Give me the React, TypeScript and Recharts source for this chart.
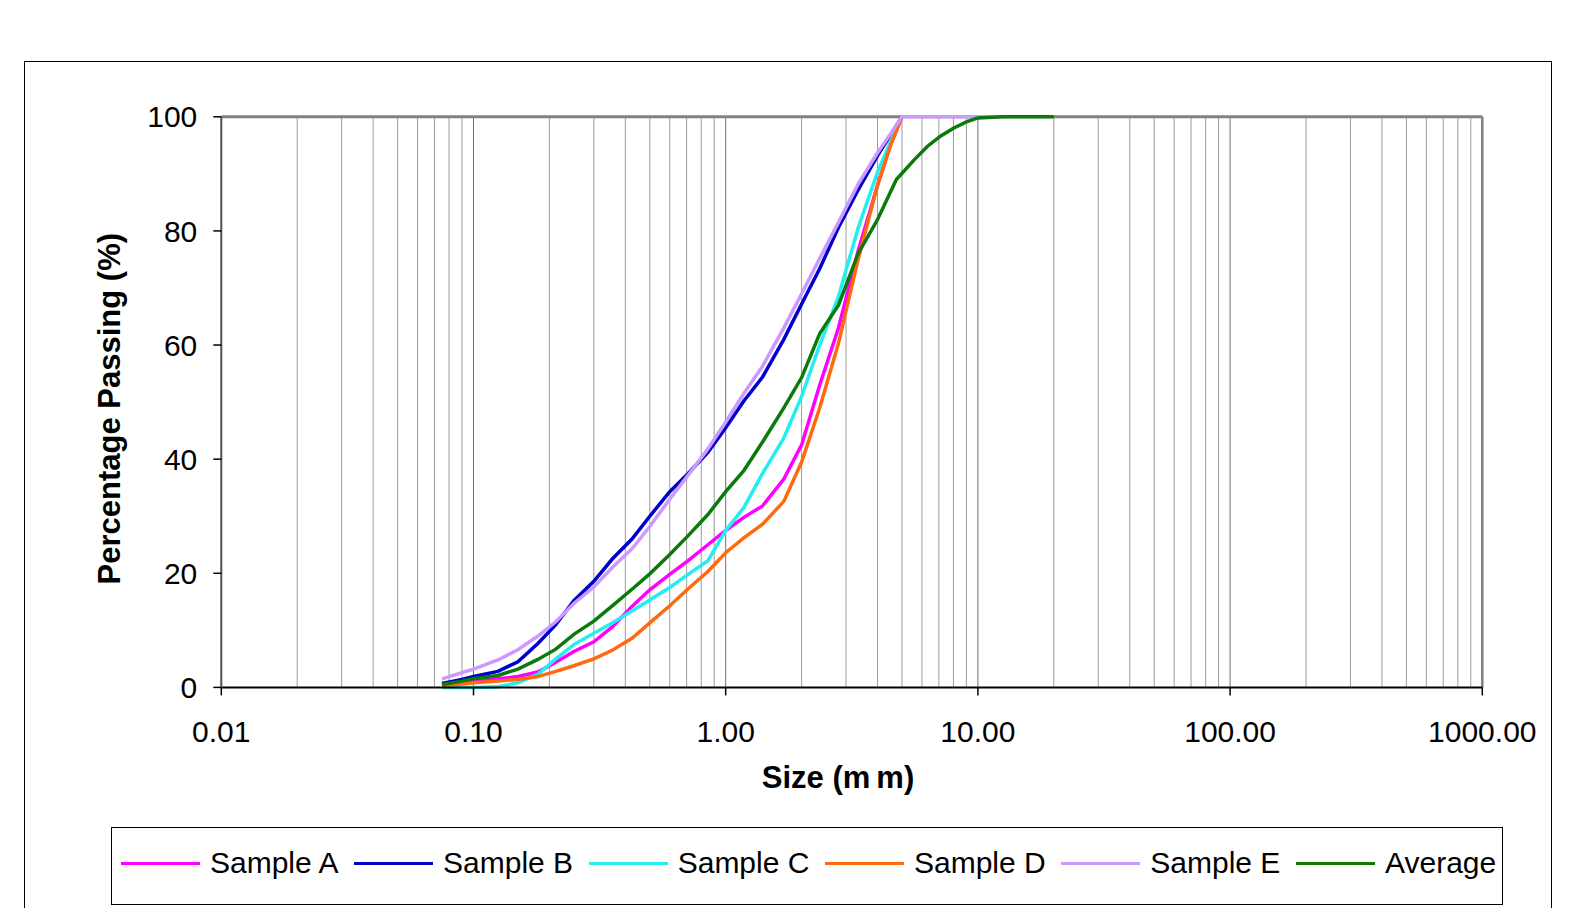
import React from 'react'
import { LineChart, Line, XAxis, YAxis, CartesianGrid, ReferenceLine, Legend } from 'recharts'

// axis ticks
const sizeTicks = [0.01, 0.1, 1, 10, 100, 1000]
const percentTicks = [0, 20, 40, 60, 80, 100]
const minorSteps = [2, 3, 4, 5, 6, 7, 8, 9]

// particle size (mm) vs percentage passing
const sampleSizes = [
  0.075, 0.09, 0.1, 0.125, 0.15, 0.18, 0.212, 0.25, 0.3, 0.355, 0.425, 0.5, 0.6,
  0.71, 0.85, 1.0, 1.18, 1.4, 1.7, 2.0, 2.36, 2.8, 3.35, 4.0, 4.5, 5.0,
]
const sampleA = [
  0.5, 0.9, 1.1, 1.5, 1.9, 2.7, 4.4, 6.3, 8.0, 10.6, 14.2, 17.1, 19.8,
  22.2, 25.0, 27.5, 29.8, 31.8, 36.5, 42.5, 53.0, 63.0, 76.5, 88.0, 95.0, 100,
]
const sampleB = [
  0.7, 1.4, 1.9, 2.8, 4.5, 7.7, 11.0, 15.2, 18.6, 22.5, 26.0, 30.0, 34.3,
  37.5, 41.2, 45.5, 50.2, 54.4, 61.0, 67.2, 73.4, 80.6, 87.2, 93.2, 96.8, 100,
]
const sampleC = [
  0, 0, 0, 0.1, 0.8, 2.3, 5.0, 7.5, 9.5, 11.3, 13.4, 15.3, 17.5,
  19.8, 22.2, 27.5, 31.5, 37.5, 43.7, 51.0, 60.0, 68.5, 80.5, 90.3, 95.6, 100,
]
const sampleD = [
  0.3, 0.6, 0.8, 1.1, 1.4, 1.9, 2.8, 3.8, 5.0, 6.5, 8.6, 11.3, 14.3,
  17.3, 20.3, 23.6, 26.2, 28.6, 32.6, 39.5, 49.0, 60.3, 75.0, 88.0, 95.0, 100,
]
const sampleESizes = [...sampleSizes, 10, 12.5]
const sampleE = [
  1.5, 2.6, 3.2, 4.8, 6.6, 9.0, 11.5, 14.7, 17.6, 21.0, 24.3, 28.2, 33.0,
  37.2, 41.8, 46.5, 51.5, 56.3, 63.0, 69.0, 75.2, 81.5, 88.2, 93.7, 97.0, 100, 100, 100,
]
const averageSizes = [
  0.075, 0.09, 0.1, 0.125, 0.15, 0.18, 0.212, 0.25, 0.3, 0.355, 0.425, 0.5, 0.6,
  0.71, 0.85, 1.0, 1.18, 1.4, 1.7, 2.0, 2.36, 2.8, 3.35, 4.0, 4.75, 5.6, 6.3,
  7.1, 8.0, 9.0, 10, 12.5, 20,
]
const average = [
  0.5, 1.1, 1.5, 2.1, 3.2, 4.9, 6.7, 9.3, 11.6, 14.3, 17.2, 19.9, 23.3,
  26.6, 30.3, 34.3, 38.0, 43.0, 49.0, 54.3, 62.0, 67.0, 76.0, 82.0, 89.0, 92.5, 94.8,
  96.6, 98.0, 99.1, 99.8, 100, 100,
]

const toPoints = (sizes: number[], pct: number[]) => sizes.map((size, i) => ({ size, pct: pct[i] }))

const samples = [
  { name: 'Sample A', color: '#FF00FF', data: toPoints(sampleSizes, sampleA) },
  { name: 'Sample B', color: '#0000CC', data: toPoints(sampleSizes, sampleB) },
  { name: 'Sample C', color: '#22EEF0', data: toPoints(sampleSizes, sampleC) },
  { name: 'Sample D', color: '#FF6A10', data: toPoints(sampleSizes, sampleD) },
  { name: 'Sample E', color: '#CC99FF', data: toPoints(sampleESizes, sampleE) },
]
const averageSeries = { name: 'Average', color: '#0A7A0A', data: toPoints(averageSizes, average) }
const legendOrder = [...samples, averageSeries].map((s) => s.name)

// 2..9 x each decade for the light log grid
const minorGrid = sizeTicks
  .slice(0, -1)
  .flatMap((d) => minorSteps.map((m) => Number((d * m).toPrecision(3))))

function SieveLegend({ payload }: any) {
  const items = [...(payload || [])].sort(
    (a: any, b: any) => legendOrder.indexOf(a.value) - legendOrder.indexOf(b.value),
  )
  return (
    <div
      style={{
        boxSizing: 'border-box',
        width: 1392,
        height: 78,
        border: '1.5px solid #000',
        display: 'flex',
        alignItems: 'center',
        paddingLeft: 9,
        paddingBottom: 6,
        gap: 15.6,
        fontSize: 30,
        lineHeight: 1,
        color: '#000',
        background: '#fff',
      }}
    >
      {items.map((entry: any) => (
        <div key={entry.value} style={{ display: 'flex', alignItems: 'center' }}>
          <span style={{ display: 'inline-block', width: 79, height: 3, background: entry.color, marginRight: 10 }} />
          <span>{entry.value}</span>
        </div>
      ))}
    </div>
  )
}

const renderLine = (s: { name: string; color: string; data: { size: number; pct: number }[] }) => (
  <Line
    key={s.name}
    data={s.data}
    dataKey="pct"
    name={s.name}
    type="linear"
    stroke={s.color}
    strokeWidth={3.5}
    dot={false}
    activeDot={false}
    legendType="plainline"
    isAnimationActive={false}
  />
)

export default function App() {
  return (
    <div
      style={{
        position: 'absolute',
        left: 0,
        top: 0,
        width: 1592,
        height: 908,
        overflow: 'hidden',
        background: '#fff',
        fontFamily: '"Liberation Sans", Arial, sans-serif',
      }}
    >
      <div
        style={{
          position: 'absolute',
          left: 24,
          top: 61,
          width: 1526,
          height: 900,
          border: '1px solid #000',
        }}
      />
      <div style={{ position: 'absolute', left: 0, top: 0 }}>
        <LineChart width={1592} height={908} margin={{ top: 116.8, right: 109.7, bottom: 120.6, left: 141.3 }}>
          <CartesianGrid horizontal={false} stroke="#6e6e6e" strokeWidth={1} />
          {minorGrid.map((v) => (
            <ReferenceLine key={v} x={v} stroke="#9c9c9c" strokeWidth={1} />
          ))}
          <ReferenceLine x={1000} stroke="#808080" strokeWidth={2.5} />
          <ReferenceLine y={100} stroke="#808080" strokeWidth={3} />
          <XAxis
            dataKey="size"
            type="number"
            scale="log"
            domain={[0.01, 1000]}
            allowDataOverflow
            ticks={sizeTicks}
            interval={0}
            tickFormatter={(v: number) => v.toFixed(2)}
            height={100}
            tickSize={8}
            tickMargin={25}
            tick={{ fill: '#000', fontSize: 30 }}
            axisLine={{ stroke: '#000', strokeWidth: 2 }}
            tickLine={{ stroke: '#000', strokeWidth: 1.5 }}
            label={{
              content: () => (
                <text x={838} y={788} textAnchor="middle" fontSize={31} fontWeight="bold" fill="#000">
                  Size (m<tspan dx={6}>m</tspan>)
                </text>
              ),
            }}
          />
          <YAxis
            type="number"
            domain={[0, 100]}
            ticks={percentTicks}
            interval={0}
            width={80}
            tickSize={8}
            tickMargin={16}
            tick={{ fill: '#000', fontSize: 30 }}
            axisLine={{ stroke: '#555', strokeWidth: 2 }}
            tickLine={{ stroke: '#000', strokeWidth: 1.5 }}
            label={{
              content: () => (
                <text
                  x={119.6}
                  y={408.7}
                  transform="rotate(-90 119.6 408.7)"
                  textAnchor="middle"
                  fontSize={31}
                  fontWeight="bold"
                  fill="#000"
                >
                  Percentage Passing (%)
                </text>
              ),
            }}
          />
          {samples.map(renderLine)}
          {renderLine(averageSeries)}
          <Legend
            layout="horizontal"
            verticalAlign="middle"
            align="center"
            wrapperStyle={{ left: 111, top: 827, width: 1392, height: 78 }}
            content={<SieveLegend />}
          />
        </LineChart>
      </div>
    </div>
  )
}
